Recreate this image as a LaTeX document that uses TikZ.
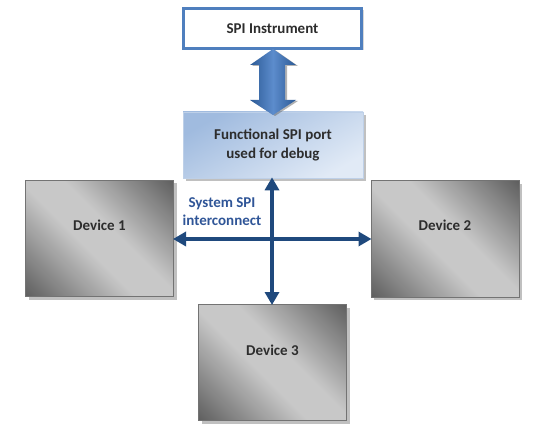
\documentclass[tikz,border=0pt]{standalone}
\usepackage{fontspec}
\setmainfont{Carlito}
\usetikzlibrary{arrows.meta,shadows}
\definecolor{instblue}{RGB}{79,127,190}
\definecolor{navy}{RGB}{31,73,125}
\definecolor{lblblue}{RGB}{47,85,151}
\definecolor{txtgray}{RGB}{45,45,45}
\definecolor{devdark}{RGB}{96,96,96}
\definecolor{devlight}{RGB}{200,200,200}
\definecolor{devline}{RGB}{115,115,115}
\definecolor{fnA}{RGB}{160,187,223}
\definecolor{fnB}{RGB}{225,234,246}
\definecolor{fnline}{RGB}{190,208,232}
\definecolor{arrA}{RGB}{44,90,150}
\definecolor{arrB}{RGB}{92,140,204}
\pgfdeclareverticalshading{devshade}{100bp}{color(0bp)=(devdark); color(15bp)=(devdark); color(44bp)=(devlight); color(56bp)=(devlight); color(85bp)=(devdark); color(100bp)=(devdark)}
\tikzset{
  boxfont/.style={font=\fontsize{15}{19}\selectfont\bfseries, text=txtgray},
  shad/.style={drop shadow={shadow xshift=3pt, shadow yshift=-3pt, fill=black!45, opacity=0.55}},
  devbox/.style={rectangle, draw=devline, line width=1pt, minimum width=148pt, minimum height=116pt,
    shading=devshade, shading angle=-45, shad, inner sep=0pt},
  devtext/.style={boxfont},
  instbox/.style={rectangle, draw=instblue, line width=3pt, fill=white, minimum width=178pt, minimum height=40pt,
    boxfont, drop shadow={shadow xshift=2pt, shadow yshift=-2pt, fill=black!30, opacity=0.5}},
  fnbox/.style={rectangle, draw=fnline, line width=0.6pt, minimum width=180pt, minimum height=66pt,
    top color=fnA, bottom color=fnB, shading angle=30, boxfont, align=center, shad},
  bus/.style={draw=navy, line width=4pt, {Triangle[width=14pt,length=13pt]}-{Triangle[width=14pt,length=13pt]}, shorten <=-1pt, shorten >=-1pt},
  lbl/.style={font=\fontsize{15}{18}\selectfont\bfseries, text=lblblue, align=center},
  bigarrow/.style={left color=arrA, right color=arrA, middle color=arrB, draw=none,
    drop shadow={shadow xshift=2pt, shadow yshift=-1pt, fill=black!60, opacity=0.5}}
}
\begin{document}
\begin{tikzpicture}[x=1pt,y=-1pt]
\useasboundingbox (0,0) rectangle (545,443);
% boxes
\node[instbox] (inst) at (272.5,28.5) {SPI Instrument};
\node[fnbox] (fn) at (273,145) {Functional SPI port\\used for debug};
\node[devbox] (d1) at (99.5,238.5) {};
\node[devbox] (d2) at (445,239) {};
\node[devbox] (d3) at (272.5,362.5) {};
\node[devtext] (t1) at (99.5,225) {Device 1};
\node[devtext] (t2) at (445,225) {Device 2};
\node[devtext] (t3) at (272.5,350) {Device 3};
% big double arrow between instrument and port
\path[bigarrow] (273,49) -- (296,65) -- (285,65) -- (285,100) -- (296,100) -- (273,115)
  -- (250,100) -- (259,100) -- (259,65) -- (250,65) -- cycle;
% interconnect
\coordinate (vx) at (272,0);
\coordinate (hy) at (0,239);
\draw[bus] (fn.south -| vx) -- (d3.north -| vx);
\draw[bus] (d1.east |- hy) -- (d2.west |- hy);
\node[lbl] (lab) at (222,212) {System SPI\\interconnect};
\end{tikzpicture}
\end{document}
